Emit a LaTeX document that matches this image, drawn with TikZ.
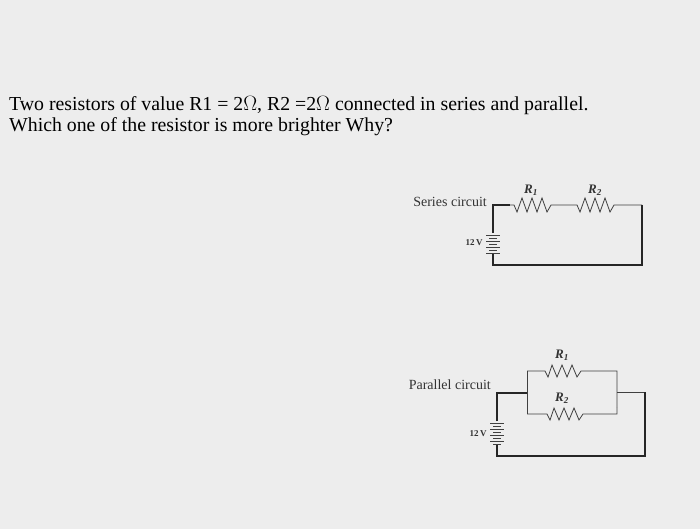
\documentclass[tikz,border=0pt]{standalone}
\usepackage{fontspec}
\setmainfont{Liberation Serif}
\begin{document}
\begin{tikzpicture}[x=1pt,y=-1pt,
 wire/.style={line width=1.6pt,black!85},
 thin/.style={line width=0.8pt,black!75},
 lbl/.style={font=\fontsize{14}{16}\selectfont,inner sep=1pt,black!80},
 rl/.style={font=\fontsize{13}{14}\selectfont\itshape\bfseries,inner sep=1pt,black!80}]
\fill[gray!14] (0,0) rectangle (700,529);
\useasboundingbox (0,0) rectangle (700,529);
\node[anchor=west,font=\fontsize{19.8}{22}\selectfont,inner sep=0] (q1) at (9,106) {Two resistors of value R1 = 2$\Omega$, R2 =2$\Omega$ connected in series and parallel.};
\node[anchor=west,font=\fontsize{19.8}{22}\selectfont,inner sep=0] (q2) at (9,127) {Which one of the resistor is more brighter Why?};
% series
\node[lbl,anchor=east] (st) at (488,202) {Series circuit};
\coordinate (sa) at (493,205); \coordinate (sb) at (642,205);
\coordinate (sc) at (642,265); \coordinate (sd) at (493,265);
\draw[wire] (493,233) -- (sa) -- (510,205);
\draw[thin] (510,205) -- (514,205) -- (517,212) -- (522,198) -- (527,212) -- (532,198) -- (537,212) -- (542,198) -- (547,212) -- (551,205) -- (577,205)
 -- (580,212) -- (585,198) -- (590,212) -- (595,198) -- (600,212) -- (605,198) -- (610,212) -- (614,205) -- (sb);
\draw[wire] (sb) -- (sc) -- (sd) -- (493,254);
\foreach \y/\w in {235/7,238/4,241/7,244/4,247/7,250/4,253/7} \draw[thin] (493-\w,\y) -- (493+\w,\y);
\node[lbl,font=\fontsize{9}{10}\selectfont\bfseries] (sv) at (474,243) {12\,V};
\node[rl] (r1s) at (531,190) {R\textsubscript{1}};
\node[rl] (r2s) at (595,190) {R\textsubscript{2}};
% parallel
\node[lbl,anchor=east] (pt) at (492,385) {Parallel circuit};
\draw[wire] (497,421) -- (497,393) -- (527,393);
\draw[thin] (527,371) -- (527,414);
\draw[thin] (527,371) -- (545,371) -- (548,377) -- (552,365) -- (557,377) -- (562,365) -- (567,377) -- (572,365) -- (577,377) -- (581,371) -- (617,371) -- (617,407);
\draw[thin] (527,414) -- (547,414) -- (550,420) -- (554,408) -- (559,420) -- (564,408) -- (569,420) -- (574,408) -- (579,420) -- (583,414) -- (617,414) -- (617,407);
\draw[thin] (617,392) -- (645,392);
\draw[wire] (645,392) -- (645,456) -- (497,456) -- (497,445);
\foreach \y/\w in {423/7,426/4,429/7,432/4,435/7,438/4,441/7,444/4} \draw[thin] (497-\w,\y) -- (497+\w,\y);
\node[lbl,font=\fontsize{9}{10}\selectfont\bfseries] (pv) at (478,434) {12\,V};
\node[rl] (r1p) at (562,355) {R\textsubscript{1}};
\node[rl] (r2p) at (562,398) {R\textsubscript{2}};
\end{tikzpicture}
\end{document}
